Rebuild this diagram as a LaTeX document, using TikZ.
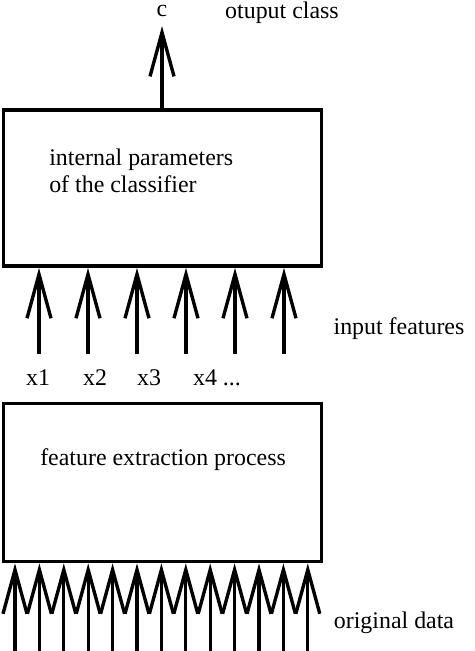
\documentclass[tikz,border=0pt]{standalone}
\usepackage{fontspec}
\setmainfont{Liberation Serif}
\usetikzlibrary{arrows.meta,positioning}

\begin{document}
\begin{tikzpicture}[x=0.025cm, y=-0.025cm,
  blockbox/.style={draw, line width=2.6pt, minimum width=7.95cm, minimum height=3.9cm, inner sep=0pt},
  feat/.style={line width=2.4pt, -{Straight Barb[length=1.1cm, width=0.6cm, line width=2.4pt]}},
  lbl/.style={font=\fontsize{17}{19.5}\selectfont, inner sep=0pt}
]
\useasboundingbox (0,0) rectangle (474,651);
% classifier box and feature extractor box
\node[blockbox] (clf) at (162.5,188) {};
\node[blockbox, minimum height=3.95cm] (fex) at (162.5,482.5) {};
\node[lbl, anchor=west, align=left] (clftxt) at (49,171) {internal parameters\\of the classifier};
\node[lbl, anchor=west] (fextxt) at (40,460) {feature extraction process};

% output
\node[lbl, anchor=base] (cls) at (162,17) {c};
\node[lbl, anchor=base] (outlbl) at (282,18) {otuput class};
\coordinate (outtip) at (162,26);
\draw[feat] (clf.north -| outtip) -- (outtip);

% input features
\foreach \i/\xx in {1/39,2/88,3/137,4/186,5/235,6/284}
  \coordinate (ft\i) at (\xx,354);
\foreach \i in {1,...,6}
  \draw[feat] (ft\i) -- (ft\i |- clf.south);
\node[lbl, anchor=base] (x1) at (38,385) {x1};
\node[lbl, anchor=base] (x2) at (95,385) {x2};
\node[lbl, anchor=base] (x3) at (149,385) {x3};
\node[lbl, anchor=base] (x4) at (217,385) {x4 ...};
\node[lbl, anchor=base] (inlbl) at (399,334) {input features};

% original data
\foreach \i in {0,...,12}
  \coordinate (od\i) at (15+24.4*\i,655);
\foreach \i in {0,...,12}
  \draw[feat] (od\i) -- (od\i |- fex.south);
\node[lbl, anchor=base] (odlbl) at (394,628) {original data};
\end{tikzpicture}
\end{document}
